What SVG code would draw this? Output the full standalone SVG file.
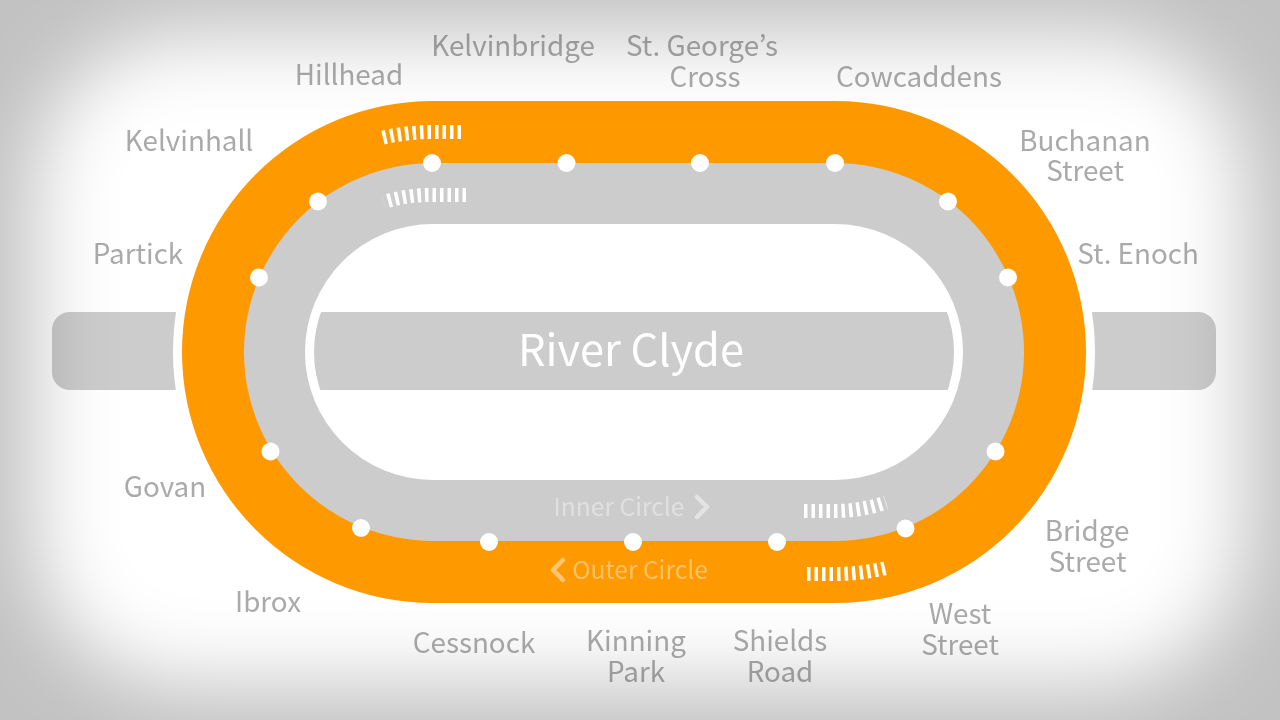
<svg xmlns="http://www.w3.org/2000/svg" width="1280" height="720" viewBox="0 0 1280 720">
<style>
text{font-family:"Noto Sans CJK JP","Noto Sans",sans-serif;text-anchor:middle}
.l{font-size:27.8px;fill:#aaa}
.s{fill:#fff}
.h{fill:none;stroke:#fff;stroke-width:14;stroke-dasharray:3.5 4}
.c{fill:none;stroke-width:4.5;stroke-linecap:round;stroke-linejoin:round}
</style>
<defs>
<filter id="blur" filterUnits="userSpaceOnUse" x="-300" y="-300" width="1880" height="1320"><feGaussianBlur stdDeviation="40"/></filter>
<clipPath id="inner"><rect x="314" y="233" width="640" height="238" rx="119"/></clipPath>
</defs>
<rect width="1280" height="720" fill="#fff"/>
<g id="river">
<rect x="52" y="312" width="1164" height="78" rx="18" fill="#ccc"/>
</g>
<g id="loop">
<rect x="173" y="92" width="922" height="520" rx="260" fill="#fff"/>
<rect x="182" y="101" width="904" height="502" rx="251" fill="#f90"/>
<rect x="244" y="163" width="780" height="378" rx="189" fill="#ccc"/>
<rect x="305" y="224" width="658" height="256" rx="128" fill="#fff"/>
<rect x="314" y="312" width="640" height="78" fill="#ccc" clip-path="url(#inner)"/>
</g>
<g id="connectors">
<path class="h" d="M461 132H433A220 220 0 0 0 382 137.9"/>
<path class="h" d="M466 195H433A158 158 0 0 0 384 202"/>
<path class="h" d="M804 511H835A159 159 0 0 0 886 502.5"/>
<path class="h" d="M807 574H835A222 222 0 0 0 886 568"/>
<path class="c" d="M697 497L707 507L697 517" stroke="#fff" stroke-opacity=".45"/>
<path class="c" d="M563 560L553 570L563 580" stroke="#fff" stroke-opacity=".45"/>
</g>
<g id="stations">
<circle class="s" id="st-hillhead" cx="432" cy="163" r="9"/>
<circle class="s" id="st-kelvinbridge" cx="566.5" cy="163" r="9"/>
<circle class="s" id="st-stgeorges" cx="700" cy="163" r="9"/>
<circle class="s" id="st-cowcaddens" cx="835" cy="163" r="9"/>
<circle class="s" id="st-buchanan" cx="948" cy="201.500" r="9"/>
<circle class="s" id="st-enoch" cx="1008" cy="277.500" r="9"/>
<circle class="s" id="st-bridge" cx="995.500" cy="451.500" r="9"/>
<circle class="s" id="st-west" cx="905.500" cy="528.500" r="9"/>
<circle class="s" id="st-shields" cx="777" cy="542" r="9"/>
<circle class="s" id="st-kinning" cx="633" cy="542" r="9"/>
<circle class="s" id="st-cessnock" cx="489" cy="542" r="9"/>
<circle class="s" id="st-ibrox" cx="361" cy="528" r="9"/>
<circle class="s" id="st-govan" cx="270.500" cy="451.500" r="9"/>
<circle class="s" id="st-partick" cx="259" cy="277.500" r="9"/>
<circle class="s" id="st-kelvinhall" cx="318" cy="201.500" r="9"/>
</g>
<g id="labels" opacity=".999">
<text class="l" x="349" y="85">Hillhead</text>
<text class="l" x="513" y="56">Kelvinbridge</text>
<text class="l" x="702" y="56">St. George’s</text>
<text class="l" x="705" y="87">Cross</text>
<text class="l" x="919" y="87">Cowcaddens</text>
<text class="l" x="1085" y="151">Buchanan</text>
<text class="l" x="1085" y="181">Street</text>
<text class="l" x="1138" y="264">St. Enoch</text>
<text class="l" x="1087" y="541">Bridge</text>
<text class="l" x="1087.500" y="572">Street</text>
<text class="l" x="960" y="624">West</text>
<text class="l" x="960" y="655">Street</text>
<text class="l" x="780" y="651">Shields</text>
<text class="l" x="780" y="682">Road</text>
<text class="l" x="636" y="651">Kinning</text>
<text class="l" x="636" y="682">Park</text>
<text class="l" x="474" y="653">Cessnock</text>
<text class="l" x="268" y="612">Ibrox</text>
<text class="l" x="165" y="497">Govan</text>
<text class="l" x="138" y="264">Partick</text>
<text class="l" x="189" y="151">Kelvinhall</text>
<text x="631" y="366" font-size="43.4" fill="#fff">River Clyde</text>
<text x="619" y="516" font-size="24.6" fill="#fff" fill-opacity=".4">Inner Circle</text>
<text x="640" y="579" font-size="24.6" fill="#fff" fill-opacity=".4">Outer Circle</text>
</g>
<path id="vignette" fill="#000" fill-opacity=".24" fill-rule="evenodd" filter="url(#blur)" d="M-300-300H1580V1020H-300ZM185 35H1095A150 150 0 0 1 1245 185V535A150 150 0 0 1 1095 685H185A150 150 0 0 1 35 535V185A150 150 0 0 1 185 35Z"/>
</svg>
